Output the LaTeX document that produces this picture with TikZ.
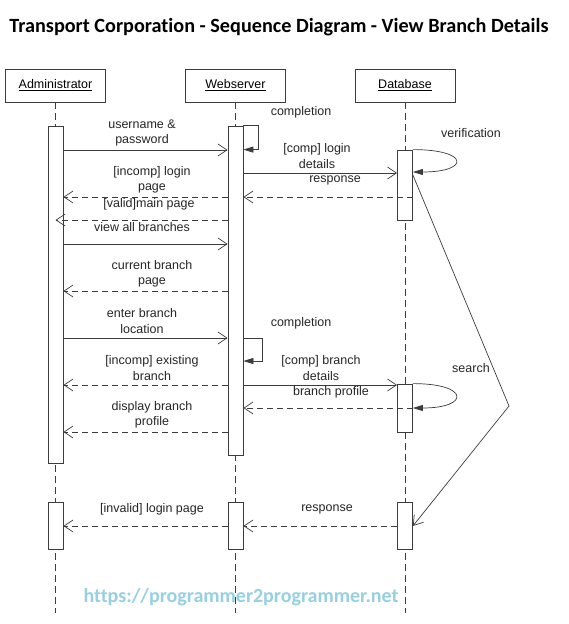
\documentclass[tikz,border=0pt]{standalone}
\usepackage{fontspec}
\setmainfont{Liberation Sans}
\newfontfamily\titlefont[Ligatures=NoCommon]{Carlito}
\usetikzlibrary{arrows.meta}
\definecolor{linegray}{RGB}{60,60,60}
\definecolor{webblue}{RGB}{150,208,226}

\begin{document}
\begin{tikzpicture}[x=1pt,y=-1pt,
	obj_node/.style={draw=linegray,line width=0.8pt,minimum width=100pt,minimum height=33pt,inner sep=0pt},
	act_node/.style={draw=linegray,fill=white,line width=0.8pt,minimum width=15pt,inner sep=0pt},
	lbl/.style={align=center,inner sep=0pt,text=black!85},
	life/.style={draw=linegray,line width=0.7pt,dash pattern=on 7pt off 4pt},
	call/.style={draw=linegray,line width=0.7pt,-{Straight Barb[length=9pt,width=12pt]}},
	reply/.style={call,dash pattern=on 6pt off 4pt},
	self/.style={draw=linegray,line width=0.7pt,-{Triangle[length=10pt,width=6pt]}},
	font=\fontsize{12.5}{15.5}\selectfont]

	\fill[white] (0,0) rectangle (568,624);
	\useasboundingbox (0,0) rectangle (568,624);

	\node[font=\titlefont\bfseries\fontsize{20.2}{24}\selectfont, anchor=base] (title) at (279,32) {Transport Corporation - Sequence Diagram - View Branch Details};
	\node[font=\titlefont\bfseries\fontsize{20}{24}\selectfont, text=webblue, anchor=base] (site) at (241,602) {https://programmer2programmer.net};

	\node[obj_node] (admin) at (55.5,85.5) {\underline{Administrator}};
	\node[obj_node] (web) at (235.5,85.5) {\underline{Webserver}};
	\node[obj_node] (db) at (405,85.5) {\underline{Database}};

	\coordinate (bottom) at (0,613);
	\foreach \o in {admin,web,db}
		\draw[life] (\o.south) -- (\o.south |- bottom);

	\node[act_node, minimum height=337pt] (a1) at (55.5,294.5) {};
	\node[act_node, minimum height=47pt] (a2) at (55.5,525.5) {};
	\node[act_node, minimum height=329pt] (w1) at (235.5,290.5) {};
	\node[act_node, minimum height=47pt] (w2) at (235.5,525.5) {};
	\node[act_node, minimum height=70pt] (d1) at (405,185) {};
	\node[act_node, minimum height=48pt] (d2) at (405,408) {};
	\node[act_node, minimum height=47pt] (d3) at (405,525.5) {};

	% message levels
	\foreach \n/\y in {m1/150,m2/173,m3/197,m5/220,m6/244,m7/291,m8/338,m9/385,m10/432,m12/408,m13/526,v1/172,s1/175}
		\coordinate (\n) at (0,\y);
	\coordinate (turn) at (509,406);

	\draw[call] (a1.east |- m1) -- (w1.west |- m1);
	\draw[call] (w1.east |- m2) -- (d1.west |- m2);
	\draw[reply] (d1.east |- m3) -- (w1.east |- m3);
	\draw[reply] (w1.west |- m3) -- (a1.east |- m3);
	\draw[reply] (w1.west |- m5) -- (a1.center |- m5);
	\draw[call] (a1.east |- m6) -- (w1.west |- m6);
	\draw[reply] (w1.west |- m7) -- (a1.east |- m7);
	\draw[call] (a1.east |- m8) -- (w1.west |- m8);
	\draw[reply] (w1.west |- m9) -- (a1.east |- m9);
	\draw[reply] (w1.west |- m10) -- (a1.east |- m10);
	\draw[call] (w1.east |- m9) -- (d2.west |- m9);
	\draw[reply] (d2.east |- m12) -- (w1.east |- m12);
	\draw[reply] (w2.west |- m13) -- (a2.east |- m13);
	\draw[reply] (d3.west |- m13) -- (w2.east |- m13);

	\draw[self] (w1.north east) -- ++(15,0) -- ++(0,24) -- ++(-15,0);
	\draw[self] (w1.east |- m8) -- ++(19,0) -- ++(0,23) -- ++(-19,0);
	\draw[self] (d1.north east) .. controls +(57,0) and +(57,0) .. (d1.east |- v1);
	\draw[self] (d2.north east) .. controls +(57,0) and +(57,0) .. (d2.east |- m12);
	\draw[call] (d1.east |- s1) -- (turn) -- (d3.east |- m13);

	\node[lbl] (l1) at (142,133) {username \&\\password};
	\node[lbl] (l2) at (317,156) {[comp] login\\details};
	\node[lbl] (l3) at (335,180) {response};
	\node[lbl] (l4) at (152,180) {[incomp] login\\page};
	\node[lbl] (l5) at (149,204) {[valid]main page};
	\node[lbl] (l6) at (142,227) {view all branches};
	\node[lbl] (l7) at (152,274) {current branch\\page};
	\node[lbl] (l8) at (142,321) {enter branch\\location};
	\node[lbl] (l9) at (152,368) {[incomp] existing\\branch};
	\node[lbl] (l10) at (152,415) {display branch\\profile};
	\node[lbl] (l11) at (321,368) {[comp] branch\\details};
	\node[lbl] (l12) at (331,392) {branch profile};
	\node[lbl] (l13) at (152,509) {[invalid] login page};
	\node[lbl] (l14) at (327,509) {response};
	\node[lbl] (c1) at (301,112) {completion};
	\node[lbl] (c2) at (301,323) {completion};
	\node[lbl] (ver) at (471,133) {verification};
	\node[lbl] (srch) at (471,368) {search};
\end{tikzpicture}
\end{document}
